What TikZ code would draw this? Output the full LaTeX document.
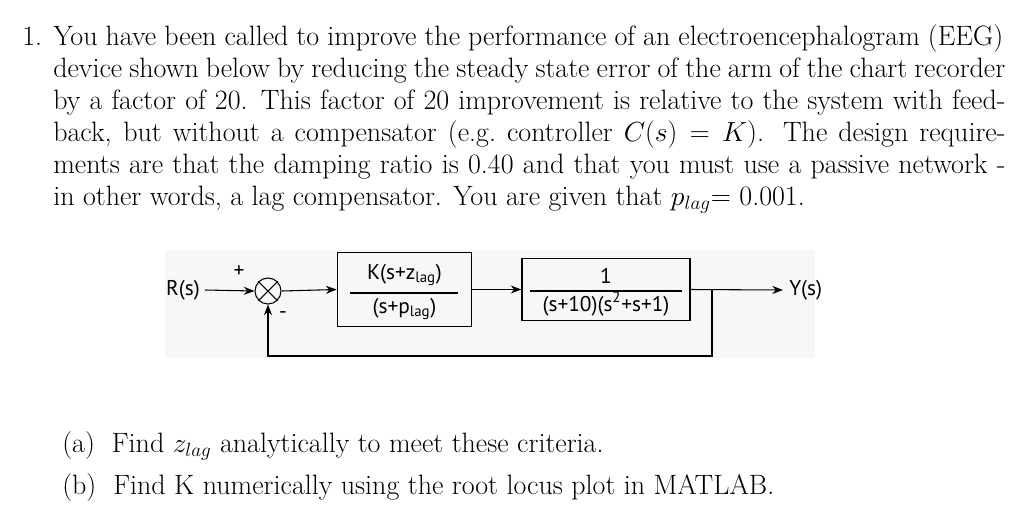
\documentclass[tikz,border=0pt]{standalone}
\usepackage{fontspec}
\newfontfamily\dsans{PT Sans}
\usetikzlibrary{arrows.meta}
\begin{document}
\begin{tikzpicture}[x=0.75pt,y=-0.75pt,
  ln/.style={anchor=base west,inner sep=0pt,font=\fontsize{21}{24}\selectfont},
  blk/.style={draw,line width=0.9pt},
  sig/.style={line width=0.8pt,-{Stealth[length=8pt,width=6pt]}},
  dl/.style={font=\dsans\fontsize{16}{18}\selectfont,inner sep=0pt}]
\useasboundingbox (0,0) rectangle (1024,519);
\node[ln] (n0) at (22,45) {1.};
\node[ln] (l1) at (53,45) {\makebox[712.5pt][s]{You have been called to improve the performance of an electroencephalogram (EEG)}};
\node[ln] (l2) at (53,77) {\makebox[714pt][s]{device shown below by reducing the steady state error of the arm of the chart recorder}};
\node[ln] (l3) at (53,109) {\makebox[714pt][s]{by a factor of 20. This factor of 20 improvement is relative to the system with feed-}};
\node[ln] (l4) at (53,141) {\makebox[714pt][s]{back, but without a compensator (e.g.\ controller $C(s)=K$). The design require-}};
\node[ln] (l5) at (53,173) {\makebox[714pt][s]{ments are that the damping ratio is 0.40 and that you must use a passive network -}};
\node[ln] (l6) at (53,205) {in other words, a lag compensator. You are given that $p_{lag}$= 0.001.};
\node[ln] (a) at (62,452) {(a)\ \ Find $z_{lag}$ analytically to meet these criteria.};
\node[ln] (b) at (62,494) {(b)\ \ Find K numerically using the root locus plot in MATLAB.};
% diagram
\fill[black!3] (165,250) rectangle (815,358);
\node[dl,anchor=east] (R) at (200,290) {R(s)};
\node[draw,circle,minimum size=19.5pt,inner sep=0pt,line width=0.8pt] (S) at (268,291) {};
\draw[line width=0.8pt] (S.north west)--(S.south east) (S.north east)--(S.south west);
\node[dl] (plus) at (239,272) {+};
\node[dl] (minus) at (283,315) {-};
\node[blk,minimum width=101pt,minimum height=56pt] (B1) at (404.5,289.5) {};
\node[dl] (num1) at (404.5,275) {K(s+z\textsubscript{lag})};
\node[dl] (den1) at (404.5,309) {(s+p\textsubscript{lag})};
\draw[line width=0.8pt] (350,293) -- (458,293);
\node[blk,minimum width=126pt,minimum height=46pt] (B2) at (606,289.5) {};
\node[dl] (num2) at (606,276) {1};
\node[dl] (den2) at (606,304) {(s+10)(s\textsuperscript{2}+s+1)};
\draw[line width=0.8pt] (530,291) -- (682,291);
\coordinate (Rend) at (205,290);
\coordinate (Yend) at (783,290);
\node[dl,anchor=west] (Y) at (789,290) {Y(s)};
\coordinate (br) at (712,290);
\coordinate (c1) at (712,356);
\coordinate (c2) at (268,356);
\draw[sig] (Rend) -- (S.west);
\draw[sig] (S.east) -- (B1.west);
\draw[sig] (B1.east) -- (B2.west);
\draw[sig] (B2.east) -- (Yend);
\draw[sig] (br) -- (c1) -- (c2) -- (S.south);
\end{tikzpicture}
\end{document}
